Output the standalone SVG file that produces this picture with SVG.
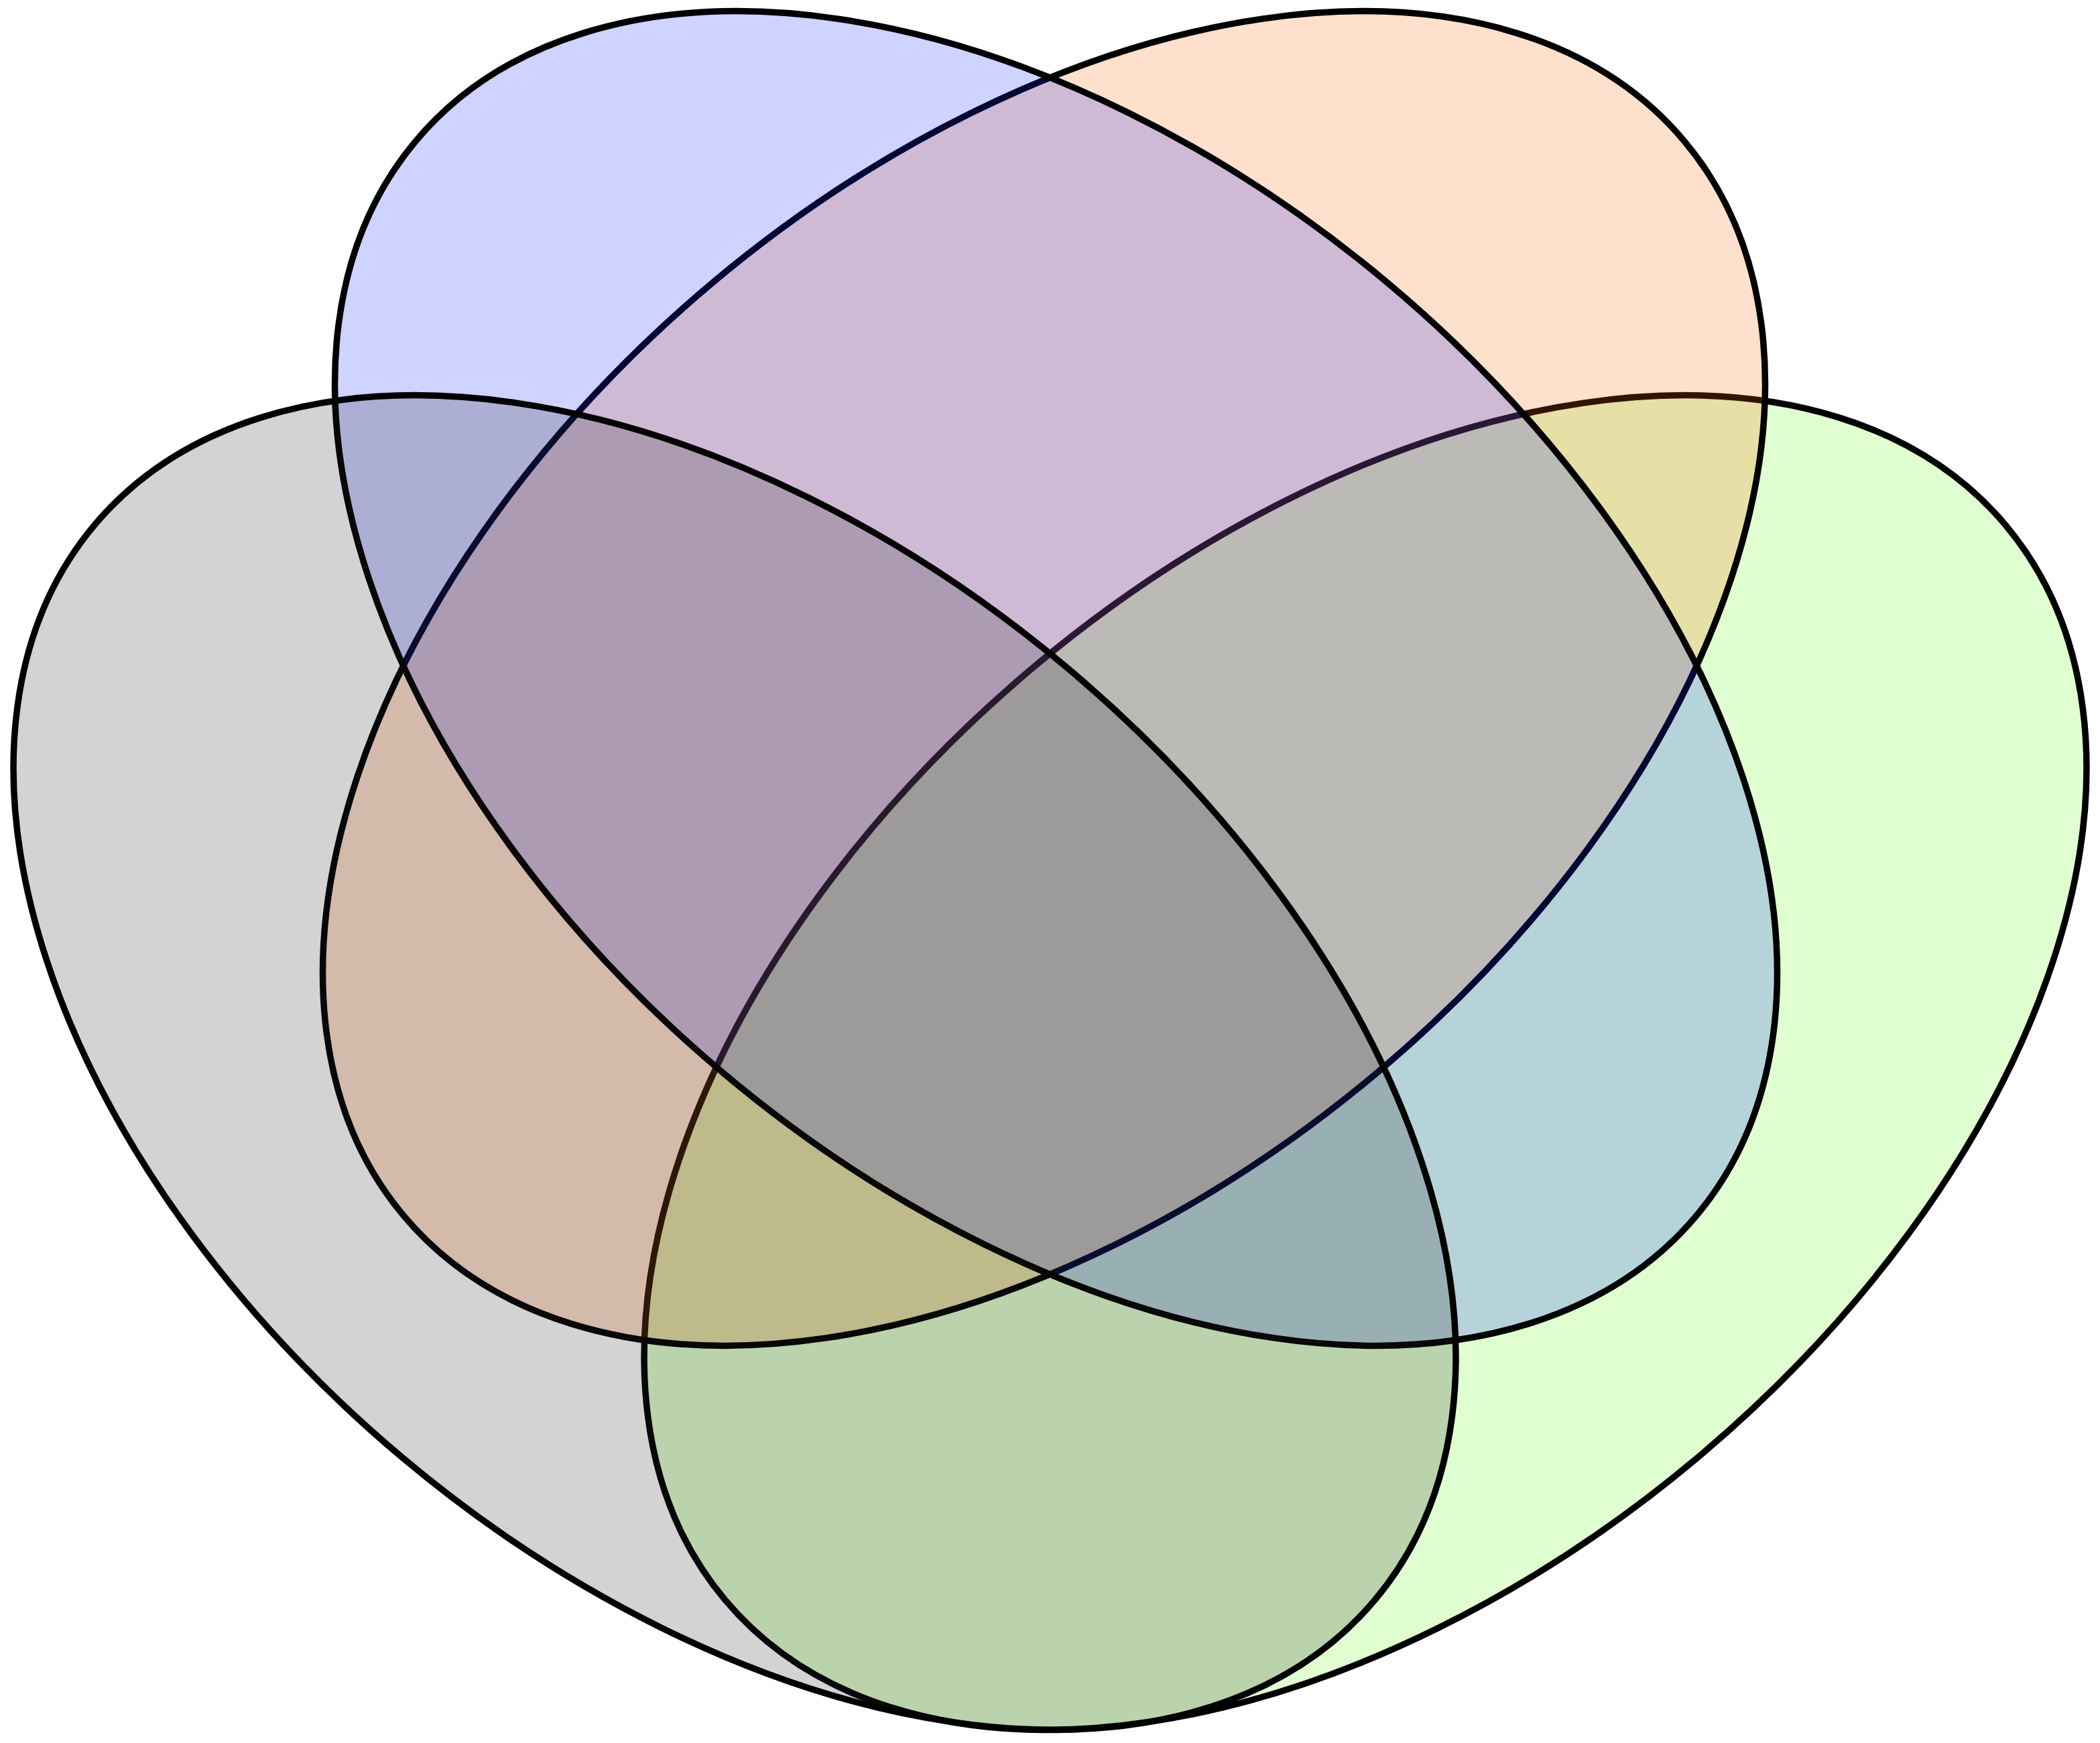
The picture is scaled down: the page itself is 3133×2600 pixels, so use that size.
<svg xmlns="http://www.w3.org/2000/svg" width="3133" height="2600" viewBox="0 0 3133 2600">
<style>
.set { stroke: #000000; stroke-width: 9.5; fill-opacity: 0.2; }
</style>
<rect width="3133" height="2600" fill="#ffffff"/>
<g id="set-green">
<ellipse class="set" cx="2037" cy="1585" rx="1247" ry="770" fill="#64FF14" transform="rotate(-40 2037 1585)"/>
</g>
<g id="set-orange">
<ellipse class="set" cx="1557.5" cy="1012" rx="1247" ry="770" fill="#FF6400" transform="rotate(-40 1557.5 1012)"/>
</g>
<g id="set-blue">
<ellipse class="set" cx="1575.5" cy="1012" rx="1247" ry="770" fill="#0F23FF" transform="rotate(40 1575.5 1012)"/>
</g>
<g id="set-gray">
<ellipse class="set" cx="1096" cy="1585" rx="1247" ry="770" fill="#232323" transform="rotate(40 1096 1585)"/>
</g>
</svg>
